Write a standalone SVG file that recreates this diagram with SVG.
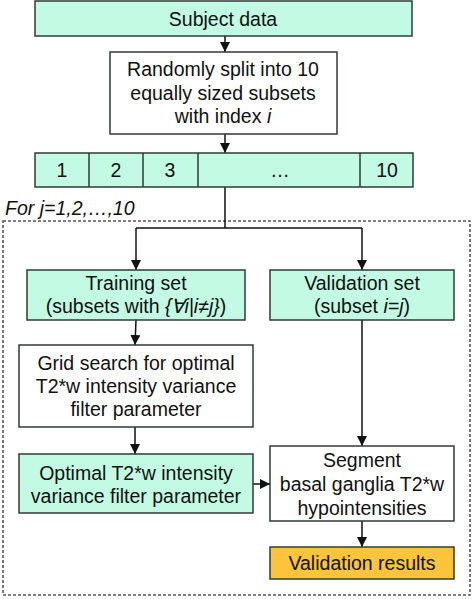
<svg xmlns="http://www.w3.org/2000/svg" width="474" height="599" viewBox="0 0 474 599">
<style>
.t{font-family:"Liberation Sans",Arial,sans-serif;font-size:19.5px;fill:#111;text-anchor:middle}
.teal{fill:#c2fae3;stroke:#2f3b36;stroke-width:1.5}
.white{fill:#fff;stroke:#2f3b36;stroke-width:1.5}
.orange{fill:#fbc43a;stroke:#2f3b36;stroke-width:1.5}
.c{fill:none;stroke:#111;stroke-width:1.5}
</style>
<defs>
<marker id="ah" viewBox="0 0 10 10" refX="10" refY="5" markerWidth="10" markerHeight="10" markerUnits="userSpaceOnUse" orient="auto">
<path d="M0,0 L10,5 L0,10 z" fill="#111"/>
</marker>
</defs>
<rect x="3" y="221" width="467" height="374" fill="none" stroke="#555" stroke-width="1.6" stroke-dasharray="3 2"/>
<text x="5" y="215" style="font-family:'Liberation Sans',Arial,sans-serif;font-size:19.5px;font-style:italic;fill:#111">For j=1,2,…,10</text>
<g id="connectors">
<line class="c" x1="225" y1="36" x2="225" y2="52" marker-end="url(#ah)"/>
<line class="c" x1="225" y1="134" x2="225" y2="153" marker-end="url(#ah)"/>
<line class="c" x1="225" y1="187" x2="225" y2="228"/>
<line class="c" x1="136" y1="228" x2="362" y2="228"/>
<line class="c" x1="136" y1="228" x2="136" y2="270" marker-end="url(#ah)"/>
<line class="c" x1="362" y1="228" x2="362" y2="270" marker-end="url(#ah)"/>
<line class="c" x1="136" y1="320" x2="135" y2="345" marker-end="url(#ah)"/>
<line class="c" x1="135" y1="427" x2="135" y2="454" marker-end="url(#ah)"/>
<line class="c" x1="362" y1="320" x2="362" y2="446" marker-end="url(#ah)"/>
<line class="c" x1="253" y1="484" x2="270" y2="484" marker-end="url(#ah)"/>
<line class="c" x1="362" y1="521" x2="362" y2="547" marker-end="url(#ah)"/>
</g>
<g id="subject">
<rect class="teal" x="35" y="1" width="377" height="35"/>
<text class="t" x="223" y="26">Subject data</text>
</g>
<g id="split">
<rect class="white" x="110" y="52" width="227" height="82"/>
<text class="t" x="223" y="76">Randomly split into 10</text>
<text class="t" x="223" y="99.5">equally sized subsets</text>
<text class="t" x="223" y="123">with index <tspan font-style="italic">i</tspan></text>
</g>
<g id="subsets">
<rect class="teal" x="35" y="153" width="378" height="34"/>
<line class="teal" x1="89" y1="153" x2="89" y2="187"/>
<line class="teal" x1="143" y1="153" x2="143" y2="187"/>
<line class="teal" x1="198" y1="153" x2="198" y2="187"/>
<line class="teal" x1="360" y1="153" x2="360" y2="187"/>
<text class="t" x="62" y="177">1</text>
<text class="t" x="116" y="177">2</text>
<text class="t" x="170" y="177">3</text>
<text class="t" x="280" y="177">…</text>
<text class="t" x="387" y="177">10</text>
</g>
<g id="training">
<rect class="teal" x="27" y="270" width="218" height="50"/>
<text class="t" x="136" y="290">Training set</text>
<text class="t" x="136" y="313">(subsets with <tspan font-style="italic">{∀i|i≠j}</tspan>)</text>
</g>
<g id="validation">
<rect class="teal" x="270" y="270" width="184" height="50"/>
<text class="t" x="362" y="290">Validation set</text>
<text class="t" x="362" y="313">(subset <tspan font-style="italic">i=j</tspan>)</text>
</g>
<g id="grid">
<rect class="white" x="19" y="345" width="234" height="82"/>
<text class="t" x="136" y="370">Grid search for optimal</text>
<text class="t" x="136" y="393">T2*w intensity variance</text>
<text class="t" x="136" y="416">filter parameter</text>
</g>
<g id="optimal">
<rect class="teal" x="19" y="454" width="234" height="59"/>
<text class="t" x="136" y="480">Optimal T2*w intensity</text>
<text class="t" x="136" y="503">variance filter parameter</text>
</g>
<g id="segment">
<rect class="white" x="270" y="446" width="184" height="75"/>
<text class="t" x="362" y="467">Segment</text>
<text class="t" x="362" y="491">basal ganglia T2*w</text>
<text class="t" x="362" y="515">hypointensities</text>
</g>
<g id="results">
<rect class="orange" x="270" y="547" width="184" height="32"/>
<text class="t" x="362" y="570">Validation results</text>
</g>
</svg>
